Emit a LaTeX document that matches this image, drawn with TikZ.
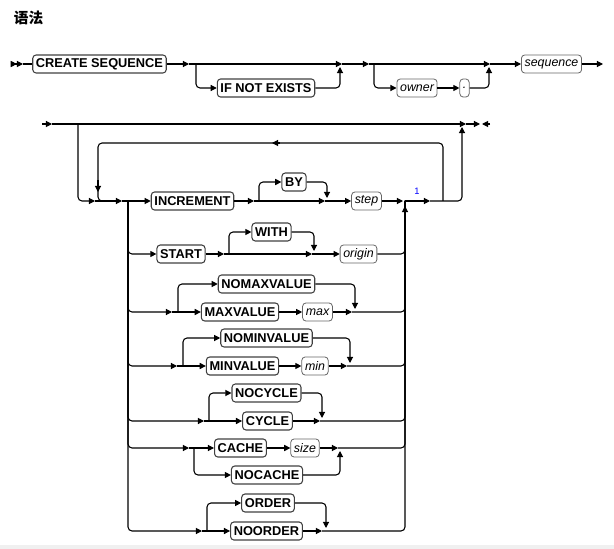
\documentclass[tikz,border=0pt]{standalone}
\usepackage{fontspec}
\setmainfont{Liberation Sans}
\newfontfamily\cjk{Noto Sans CJK SC}
\usetikzlibrary{arrows.meta}

\tikzset{every picture/.style={line width=0.75pt}}
\tikzset{
  kw/.style={draw=black!75, rounded corners=2.5pt, line width=0.8pt, minimum height=13.5pt,
    inner xsep=2.4pt, inner ysep=0pt, font=\bfseries\fontsize{9.6}{10}\selectfont},
  var/.style={kw, draw=black!60, line width=0.6pt, font=\itshape\fontsize{9.3}{10}\selectfont},
  rail/.style={line width=0.8pt, rounded corners=3pt},
  >={Triangle[length=4.6pt,width=4.6pt]}
}

\begin{document}
\begin{tikzpicture}[x=0.75pt,y=0.75pt,yscale=-1,xscale=1]
\useasboundingbox (0,0) rectangle (614,549);
\fill[black!6] (0,545) rectangle (614,549);

% Title
\node[anchor=west, font=\cjk\bfseries\fontsize{11}{12}\selectfont] (title) at (9,18) {语法};

% Boxes, first line
\node[kw] (create) at (99.5,64) {CREATE SEQUENCE};
\node[kw] (ifne) at (266,88) {IF NOT EXISTS};
\node[var] (owner) at (417,88) {owner};
\node[var, minimum width=7pt, inner xsep=1.5pt] (dot) at (464.5,88) {.};
\node[var] (seq) at (551.5,64) {sequence};

% Boxes, options
\node[kw] (incr) at (192.5,201) {INCREMENT};
\node[kw] (by) at (294,182) {BY};
\node[var] (step) at (366.5,201) {step};
\node[kw] (start) at (181,254) {START};
\node[kw] (with) at (271.5,232) {WITH};
\node[var] (origin) at (358.5,254) {origin};
\node[kw] (nomax) at (266.5,284) {NOMAXVALUE};
\node[kw] (maxv) at (240,312) {MAXVALUE};
\node[var] (max) at (317.5,312) {max};
\node[kw] (nomin) at (266.5,338) {NOMINVALUE};
\node[kw] (minv) at (242.5,366) {MINVALUE};
\node[var] (min) at (315,366) {min};
\node[kw] (nocyc) at (266.5,393) {NOCYCLE};
\node[kw] (cyc) at (267.5,421) {CYCLE};
\node[kw] (cache) at (240.5,448) {CACHE};
\node[var] (size) at (305,448) {size};
\node[kw] (nocache) at (267,475) {NOCACHE};
\node[kw] (order) at (268,503) {ORDER};
\node[kw] (noorder) at (266.5,531) {NOORDER};
\node[text=blue, font=\fontsize{7}{7}\selectfont] (note) at (417,191) {1};

% Junctions
\coordinate (s0) at (13,64);
\coordinate (a1) at (189,64);
\coordinate (m1) at (342,64);
\coordinate (a2) at (369,64);
\coordinate (m2) at (490,64);
\coordinate (s1) at (42,124);
\coordinate (e1) at (466,124);
\coordinate (L) at (128,201);
\coordinate (R) at (405,201);

% First line
\draw[rail,-{Triangle[length=4.6pt,width=4.6pt]Triangle[length=4.6pt,width=4.6pt]}] (s0) -- (23,64);
\draw[rail] (23,64) -- (create.west);
\draw[rail,->] (create.east) -- (a1);
\draw[rail,->] (a1) -- (m1);
\draw[rail,->] (196,64) |- (ifne.west);
\draw[rail,->] (ifne.east) -| (340,67);
\draw[rail,->] (m1) -- (a2);
\draw[rail,->] (374,64) |- (owner.west);
\draw[rail,->] (owner.east) -- (dot.west);
\draw[rail,->] (dot.east) -| (489,67);
\draw[rail,->] (a2) -- (m2);
\draw[rail,->] (m2) -- (seq.west);
\draw[rail,->] (seq.east) -- (603,64);

% Second line
\draw[rail,->] (s1) -- (52,124);
\draw[rail,->] (52,124) -- (e1);
\draw[rail,->] (e1) -- (480,124);
\draw[rail,->] (490,124) -- (482,124);
\draw[rail,->] (78,124) |- (95,201);
\draw[rail,->] (95,201) -- (122,201);
\draw[rail] (122,201) -- (L);
% loop back
\draw[rail] (443,201) |- (98,143) -- (98,185);
\draw[rail,->] (98,180) -- (98,192);
\draw[rail] (98,190) |- (110,201);
\draw[rail,->] (280,143) -- (272,143);
% increment
\draw[rail,->] (L) -- (incr.west);
\draw[rail,->] (incr.east) -- (254,201);
\draw[rail,->] (254,201) -- (325,201);
\draw[rail,->] (259,201) |- (by.west);
\draw[rail,->] (by.east) -| (327,198);
\draw[rail,->] (325,201) -- (step.west);
\draw[rail,->] (step.east) -- (403,201);
\draw[rail,->] (R) -- (430,201);
\draw[rail,->] (430,201) -| (462,127);
% start
\draw[rail,->] (L) |- (start.west);
\draw[rail,->] (start.east) -- (224,254);
\draw[rail,->] (224,254) -- (312,254);
\draw[rail,->] (229,254) |- (with.west);
\draw[rail,->] (with.east) -| (314,251);
\draw[rail,->] (312,254) -- (origin.west);
\draw[rail] (origin.east) -| (R);
% maxvalue
\draw[rail,->] (L) |- (172,312);
\draw[rail,->] (172,312) -- (maxv.west);
\draw[rail,->] (178,312) |- (nomax.west);
\draw[rail,->] (maxv.east) -- (max.west);
\draw[rail,->] (max.east) -- (352,312);
\draw[rail,->] (nomax.east) -| (355,309);
\draw[rail] (352,312) -| (R);
% minvalue
\draw[rail,->] (L) |- (177,366);
\draw[rail,->] (177,366) -- (minv.west);
\draw[rail,->] (183,366) |- (nomin.west);
\draw[rail,->] (minv.east) -- (min.west);
\draw[rail,->] (min.east) -- (347,366);
\draw[rail,->] (nomin.east) -| (350,363);
\draw[rail] (347,366) -| (R);
% cycle
\draw[rail,->] (L) |- (204,421);
\draw[rail,->] (204,421) -- (cyc.west);
\draw[rail,->] (209,421) |- (nocyc.west);
\draw[rail,->] (cyc.east) -- (320,421);
\draw[rail,->] (nocyc.east) -| (322,418);
\draw[rail] (320,421) -| (R);
% cache
\draw[rail,->] (L) |- (189,448);
\draw[rail,->] (189,448) -- (cache.west);
\draw[rail,->] (194,448) |- (nocache.west);
\draw[rail,->] (cache.east) -- (size.west);
\draw[rail,->] (size.east) -- (338,448);
\draw[rail,->] (nocache.east) -| (340,451);
\draw[rail] (338,448) -| (R);
% order
\draw[rail,->] (L) |- (202,531);
\draw[rail,->] (202,531) -- (noorder.west);
\draw[rail,->] (207,531) |- (order.west);
\draw[rail,->] (noorder.east) -- (322,531);
\draw[rail,->] (order.east) -| (326,528);
\draw[rail] (322,531) -| (R);
\draw[rail,->] (405,230) -- (405,206);
\end{tikzpicture}
\end{document}
